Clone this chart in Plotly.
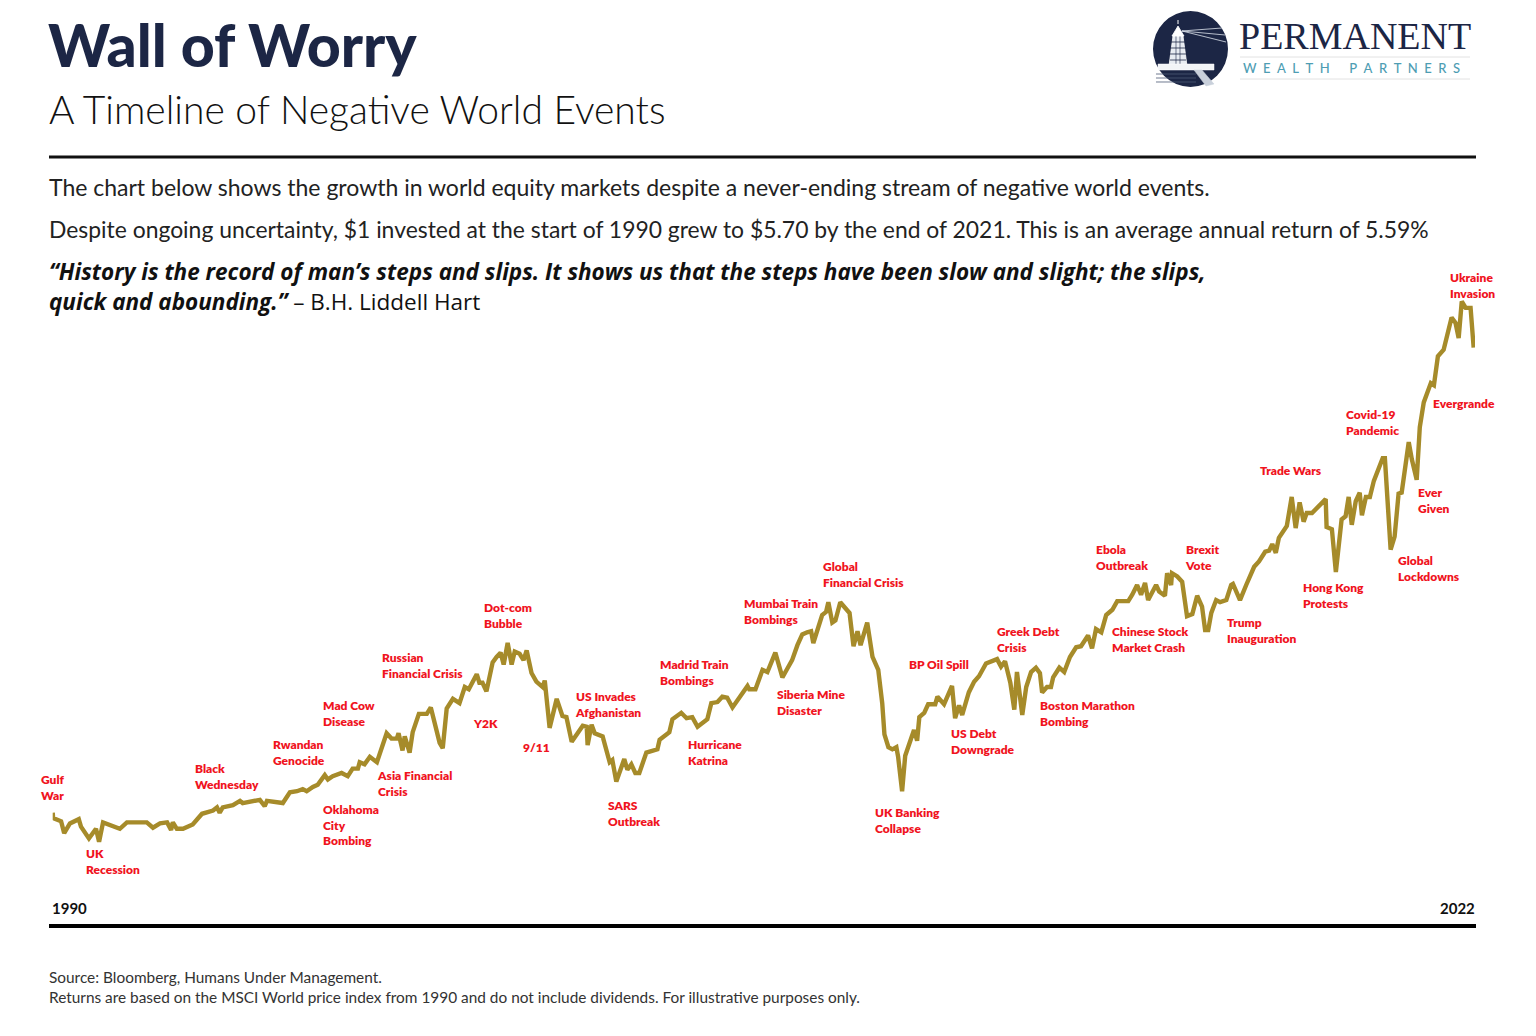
import plotly.graph_objects as go

# ---------------- data ----------------
years = [1990.00, 1990.01, 1990.19, 1990.26, 1990.39, 1990.59, 1990.64, 1990.82, 1990.98, 1991.05,
         1991.14, 1991.52, 1991.68, 1992.13, 1992.27, 1992.43, 1992.59, 1992.68, 1992.72, 1992.81,
         1992.95, 1993.17, 1993.38, 1993.63, 1993.72, 1993.78, 1993.85, 1994.08, 1994.24, 1994.30,
         1994.69, 1994.80, 1994.85, 1995.21, 1995.37, 1995.53, 1995.66, 1995.75, 1995.89, 1996.00,
         1996.16, 1996.23, 1996.34, 1996.54, 1996.68, 1996.79, 1996.91, 1996.95, 1997.06, 1997.18,
         1997.34, 1997.41, 1997.56, 1997.67, 1997.79, 1997.83, 1997.92, 1997.97, 1998.08, 1998.15,
         1998.29, 1998.47, 1998.56, 1998.76, 1998.83, 1998.92, 1999.06, 1999.21, 1999.33, 1999.42,
         1999.60, 1999.66, 1999.73, 1999.82, 1999.96, 2000.05, 2000.14, 2000.21, 2000.30, 2000.39,
         2000.46, 2000.57, 2000.66, 2000.73, 2000.84, 2000.95, 2001.09, 2001.14, 2001.25, 2001.41,
         2001.54, 2001.63, 2001.75, 2002.00, 2002.09, 2002.11, 2002.20, 2002.27, 2002.45, 2002.61,
         2002.67, 2002.76, 2002.94, 2003.01, 2003.10, 2003.19, 2003.28, 2003.44, 2003.58, 2003.69,
         2003.74, 2003.96, 2004.03, 2004.23, 2004.35, 2004.48, 2004.60, 2004.82, 2004.91, 2005.05,
         2005.16, 2005.27, 2005.39, 2005.55, 2005.73, 2005.77, 2005.91, 2006.07, 2006.18, 2006.36,
         2006.52, 2006.63, 2006.74, 2006.86, 2006.97, 2007.08, 2007.17, 2007.22, 2007.29, 2007.42,
         2007.51, 2007.56, 2007.65, 2007.72, 2007.83, 2008.04, 2008.13, 2008.22, 2008.29, 2008.44,
         2008.56, 2008.69, 2008.78, 2008.83, 2008.92, 2009.01, 2009.10, 2009.14, 2009.23, 2009.30,
         2009.50, 2009.57, 2009.62, 2009.73, 2009.82, 2009.98, 2010.03, 2010.18, 2010.36, 2010.43,
         2010.52, 2010.59, 2010.74, 2010.86, 2010.97, 2011.13, 2011.38, 2011.47, 2011.56, 2011.68,
         2011.77, 2011.83, 2011.95, 2012.04, 2012.15, 2012.26, 2012.35, 2012.40, 2012.51, 2012.60,
         2012.65, 2012.79, 2012.90, 2013.03, 2013.17, 2013.28, 2013.44, 2013.53, 2013.62, 2013.74,
         2013.85, 2013.99, 2014.10, 2014.35, 2014.44, 2014.55, 2014.64, 2014.73, 2014.80, 2014.98,
         2015.05, 2015.18, 2015.23, 2015.32, 2015.34, 2015.46, 2015.57, 2015.68, 2015.80, 2015.91,
         2016.02, 2016.09, 2016.16, 2016.23, 2016.34, 2016.43, 2016.57, 2016.68, 2016.72, 2016.79,
         2016.88, 2017.02, 2017.20, 2017.31, 2017.45, 2017.54, 2017.61, 2017.69, 2017.76, 2017.94,
         2018.05, 2018.14, 2018.23, 2018.32, 2018.39, 2018.51, 2018.82, 2018.84, 2018.96, 2019.05,
         2019.18, 2019.27, 2019.34, 2019.41, 2019.50, 2019.59, 2019.64, 2019.73, 2019.82, 2019.91,
         2019.98, 2020.11, 2020.16, 2020.20, 2020.29, 2020.38, 2020.47, 2020.54, 2020.70, 2020.77,
         2020.88, 2020.95, 2021.04, 2021.20, 2021.27, 2021.36, 2021.49, 2021.67, 2021.76, 2021.83,
         2021.90, 2021.99, 2022.10, 2022.17]

growth = [1.00, 0.95, 0.92, 0.81, 0.90, 0.94, 0.87, 0.76, 0.85, 0.73,
          0.91, 0.85, 0.91, 0.91, 0.86, 0.90, 0.91, 0.84, 0.91, 0.85,
          0.85, 0.89, 0.99, 1.02, 1.05, 1.00, 1.05, 1.07, 1.11, 1.09,
          1.12, 1.06, 1.11, 1.09, 1.19, 1.20, 1.22, 1.20, 1.24, 1.26,
          1.35, 1.31, 1.34, 1.37, 1.34, 1.41, 1.41, 1.47, 1.45, 1.52,
          1.47, 1.56, 1.74, 1.69, 1.69, 1.74, 1.58, 1.71, 1.56, 1.75,
          1.92, 1.92, 1.98, 1.65, 1.60, 1.97, 2.06, 2.02, 2.17, 2.15,
          2.29, 2.21, 2.21, 2.13, 2.40, 2.45, 2.49, 2.38, 2.58, 2.38,
          2.50, 2.48, 2.42, 2.51, 2.30, 2.22, 2.17, 2.23, 1.79, 2.06,
          1.90, 1.89, 1.66, 1.81, 1.80, 1.63, 1.82, 1.74, 1.71, 1.47,
          1.49, 1.29, 1.50, 1.40, 1.45, 1.37, 1.37, 1.56, 1.58, 1.59,
          1.68, 1.75, 1.87, 1.93, 1.88, 1.89, 1.80, 1.87, 2.02, 2.03,
          2.08, 2.07, 1.98, 2.08, 2.18, 2.15, 2.15, 2.33, 2.31, 2.49,
          2.26, 2.34, 2.42, 2.56, 2.66, 2.68, 2.69, 2.58, 2.68, 2.84,
          2.87, 2.96, 2.77, 2.79, 2.96, 2.86, 2.55, 2.69, 2.56, 2.77,
          2.45, 2.33, 2.02, 1.73, 1.61, 1.59, 1.61, 1.52, 1.20, 1.53,
          1.77, 1.67, 1.89, 1.93, 2.01, 2.01, 2.08, 2.01, 2.18, 1.88,
          2.00, 1.91, 2.12, 2.22, 2.27, 2.39, 2.43, 2.36, 2.41, 2.21,
          1.96, 2.31, 1.91, 2.17, 2.31, 2.35, 2.30, 2.12, 2.17, 2.17,
          2.26, 2.35, 2.31, 2.45, 2.54, 2.55, 2.65, 2.53, 2.71, 2.68,
          2.84, 2.89, 2.97, 2.97, 3.03, 3.12, 3.03, 3.14, 2.98, 3.12,
          3.06, 3.02, 3.23, 3.12, 3.23, 3.20, 3.15, 2.83, 2.85, 3.02,
          2.92, 2.70, 2.70, 2.86, 2.98, 2.96, 2.98, 3.12, 3.13, 3.07,
          2.98, 3.12, 3.29, 3.34, 3.43, 3.44, 3.50, 3.42, 3.56, 3.67,
          3.94, 3.65, 3.89, 3.71, 3.79, 3.79, 3.92, 3.66, 3.64, 3.24,
          3.73, 3.76, 3.94, 3.68, 3.90, 3.98, 3.77, 3.94, 3.94, 4.09,
          4.17, 4.30, 4.30, 4.01, 3.45, 3.57, 3.97, 3.98, 4.45, 4.29,
          4.10, 4.59, 4.82, 5.00, 4.98, 5.25, 5.31, 5.61, 5.56, 5.42,
          5.76, 5.70, 5.70, 5.33]

event_labels = ["Gulf<br>War", "UK<br>Recession", "Black<br>Wednesday", "Rwandan<br>Genocide",
                "Oklahoma<br>City<br>Bombing", "Mad Cow<br>Disease", "Asia Financial<br>Crisis",
                "Russian<br>Financial Crisis", "Y2K", "Dot-com<br>Bubble", "9/11",
                "US Invades<br>Afghanistan", "SARS<br>Outbreak", "Madrid Train<br>Bombings",
                "Hurricane<br>Katrina", "Mumbai Train<br>Bombings", "Siberia Mine<br>Disaster",
                "Global<br>Financial Crisis", "UK Banking<br>Collapse", "BP Oil Spill",
                "US Debt<br>Downgrade", "Greek Debt<br>Crisis", "Boston Marathon<br>Bombing",
                "Ebola<br>Outbreak", "Chinese Stock<br>Market Crash", "Brexit<br>Vote",
                "Trump<br>Inauguration", "Trade Wars", "Hong Kong<br>Protests",
                "Covid-19<br>Pandemic", "Global<br>Lockdowns", "Ever<br>Given", "Evergrande",
                "Ukraine<br>Invasion"]

# label anchor positions (left edge px, first-line centre px) on the 1536x1036 page
label_pos = [(40, 779), (85, 853), (194, 768), (272, 744), (322, 809), (322, 705), (376, 775),
             (381, 657), (472, 723), (483, 607), (522, 747), (574, 696), (607, 805), (659, 664),
             (687, 744), (743, 603), (776, 694), (822, 566), (874, 812), (908, 664), (950, 733),
             (996, 631), (1039, 705), (1095, 549), (1111, 631), (1184, 549), (1226, 622),
             (1259, 470), (1302, 587), (1345, 414), (1397, 560), (1417, 492), (1432, 403),
             (1449, 277)]

start_label = "1990"
end_label = "2022"

# ---------------- layout helpers ----------------
W, H = 1536, 1036
def X(px):
    return px / W
def Y(py):
    return 1 - py / H

GOLD = "#A68B2A"
NAVY = "#1C2645"
RED = "#F0141E"
TXT = "#222222"

fig = go.Figure()
fig.add_trace(go.Scatter(x=years, y=growth, mode="lines",
                         line=dict(color=GOLD, width=4.4), hoverinfo="skip",
                         showlegend=False))

annotations = []
def txt(x, y, text, size, color=TXT, family="Lato", xanchor="left", yanchor="middle", weight=None):
    f = dict(size=size, color=color, family=family)
    if weight is not None:
        f["weight"] = weight
    annotations.append(dict(x=X(x), y=Y(y), xref="paper", yref="paper", text=text,
                            showarrow=False, xanchor=xanchor, yanchor=yanchor, align="left",
                            font=f, borderpad=0))

# Title block
txt(47, 45, "Wall of Worry", 59, NAVY, weight=900)
txt(48, 109, "A Timeline of Negative World Events", 39, "#111111", weight=300)

txt(48, 187, "The chart below shows the growth in world equity markets despite a never-ending stream of negative world events.", 23, TXT)
txt(48, 229, "Despite ongoing uncertainty, $1 invested at the start of 1990 grew to $5.70 by the end of 2021. This is an average annual return of 5.59%", 22.9, TXT)
txt(48, 272, "<b><i>\u201cHistory is the record of man\u2019s steps and slips. It shows us that the steps have been slow and slight; the slips,</i></b>", 22.5, "#111111", family="Open Sans")
txt(48, 301, "<b><i>quick and abounding.\u201d</i></b> \u2013 B.H. Liddell Hart", 22.5, "#111111", family="Open Sans")

# Event labels
for lab, (lx, ly) in zip(event_labels, label_pos):
    annotations.append(dict(x=X(lx), y=Y(ly - 8.5), xref="paper", yref="paper", text=lab,
                            showarrow=False, xanchor="left", yanchor="top", align="left",
                            font=dict(size=12, color=RED, family="Lato", weight=800), borderpad=0))

# axis end labels
txt(51, 908, "<b>" + start_label + "</b>", 15, "#111111")
txt(1476, 908, "<b>" + end_label + "</b>", 15, "#111111", xanchor="right")

# Footnotes
txt(48, 977, "Source: Bloomberg, Humans Under Management.", 15.4, "#333333")
txt(48, 997, "Returns are based on the MSCI World price index from 1990 and do not include dividends. For illustrative purposes only.", 15.4, "#333333")

# Logo text
txt(1238, 36, "PERMANENT", 38, NAVY, family="Liberation Serif")
sp = "\u2002"
txt(1242, 68, sp.join("WEALTH") + sp * 3 + sp.join("PARTNERS"), 13, "#4E9DB3", weight=500)

shapes = [
    # rules
    dict(type="line", xref="paper", yref="paper", x0=X(49), x1=X(1476), y0=Y(157), y1=Y(157),
         line=dict(color="#111111", width=3)),
    dict(type="line", xref="paper", yref="paper", x0=X(49), x1=X(1476), y0=Y(926), y1=Y(926),
         line=dict(color="#000000", width=4)),
    # logo thin lines
    dict(type="line", xref="paper", yref="paper", x0=X(1240), x1=X(1470), y0=Y(57), y1=Y(57),
         line=dict(color="#E2E2E2", width=1)),
    dict(type="line", xref="paper", yref="paper", x0=X(1240), x1=X(1470), y0=Y(79), y1=Y(79),
         line=dict(color="#E2E2E2", width=1)),
    # logo circle
    dict(type="circle", xref="paper", yref="paper", x0=X(1153), x1=X(1228), y0=Y(87), y1=Y(11),
         fillcolor=NAVY, line=dict(color=NAVY, width=0)),
]

def path_shape(path, fill=None, color="white", width=1):
    # path given in page pixels -> convert to paper coordinates
    toks = path.split()
    out = []
    i = 0
    while i < len(toks):
        t = toks[i]
        if t in ("M", "L"):
            px, py = float(toks[i + 1]), float(toks[i + 2])
            out.append(f"{t} {X(px):.5f},{Y(py):.5f}")
            i += 3
        else:
            out.append(t)
            i += 1
    d = dict(type="path", xref="paper", yref="paper", path=" ".join(out),
             line=dict(color=color, width=width))
    if fill:
        d["fillcolor"] = fill
    return d

# lighthouse (simplified)
shapes.append(path_shape("M 1169 66 L 1173 36 L 1183 36 L 1187 66 Z", fill="#E8ECF2", color="white", width=0.8))
for yy in (42, 48, 54, 60):
    shapes.append(path_shape(f"M 1170 {yy} L 1186 {yy}", color=NAVY, width=0.8))
shapes.append(path_shape("M 1176 36 L 1176 66", color=NAVY, width=0.6))
shapes.append(path_shape("M 1180 36 L 1180 66", color=NAVY, width=0.6))
shapes.append(path_shape("M 1172 36 L 1178 26 L 1184 36 Z", fill="white", color="white", width=0.8))
shapes.append(path_shape("M 1178 24 L 1178 20", color="white", width=1))
for (ex, ey) in ((1222, 28), (1225, 35), (1226, 42)):
    shapes.append(path_shape(f"M 1182 31 L {ex} {ey}", color="#DDE3EC", width=0.8))
shapes.append(path_shape("M 1158 64 L 1214 64 L 1214 70 L 1158 70 Z", fill="#F2F4F7", color="white", width=0.5))
shapes.append(path_shape("M 1194 70 L 1206 86 L 1214 84 L 1202 70 Z", fill="#C9D0DB", color="#C9D0DB", width=0.5))
for yy in (74, 78, 82):
    shapes.append(path_shape(f"M 1156 {yy} L 1196 {yy}", color="#4B5875", width=0.8))

fig.update_layout(
    width=W, height=H,
    margin=dict(l=0, r=0, t=0, b=0),
    paper_bgcolor="white", plot_bgcolor="white",
    xaxis=dict(range=[1990, 2022.2], domain=[X(52.7), X(1475)], visible=False, fixedrange=True),
    yaxis=dict(range=[0.3734, 6.2393], domain=[Y(880), Y(250)], visible=False, fixedrange=True),
    annotations=annotations,
    shapes=shapes,
    showlegend=False,
)

fig.write_html("out.html")
